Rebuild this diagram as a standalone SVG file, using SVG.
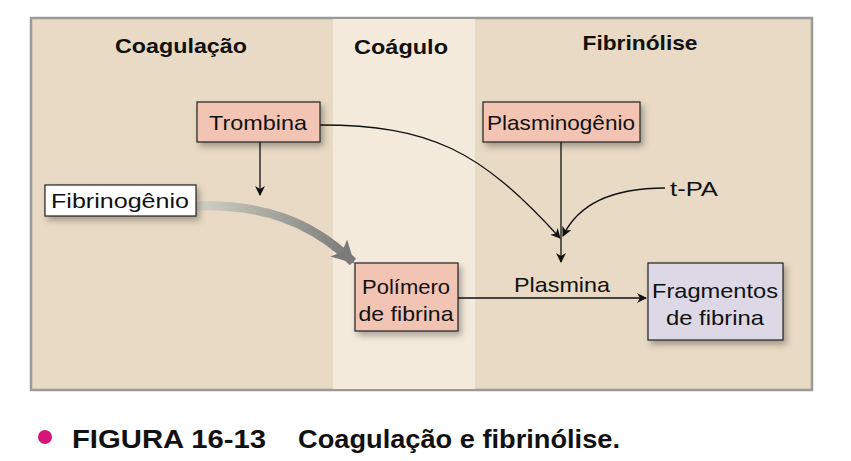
<svg xmlns="http://www.w3.org/2000/svg" width="851" height="461" viewBox="0 0 851 461">
<defs>
<marker id="ah" markerWidth="10" markerHeight="10" refX="9" refY="5" orient="auto" markerUnits="userSpaceOnUse"><path d="M0,0 L10,5 L0,10 L3,5 Z" fill="#111"/></marker>
<marker id="bh" markerWidth="30" markerHeight="30" refX="20" refY="12" orient="auto" markerUnits="userSpaceOnUse"><path d="M0,0 L22,12 L0,24 L5,12 Z" fill="#7a7a7a"/></marker>
<linearGradient id="g" x1="196" y1="0" x2="355" y2="0" gradientUnits="userSpaceOnUse"><stop offset="0" stop-color="#d2d2c4"/><stop offset="1" stop-color="#777"/></linearGradient>
<filter id="sh" x="-20%" y="-20%" width="150%" height="160%"><feDropShadow dx="3" dy="4" stdDeviation="3" flood-color="#000" flood-opacity="0.3"/></filter>
</defs>
<style>
.t{font-family:"Liberation Sans",Arial,sans-serif;font-size:21px;fill:#111;text-anchor:middle}
.h{font-family:"Liberation Sans",Arial,sans-serif;font-size:21px;font-weight:bold;fill:#111;text-anchor:middle}
.box{stroke:#222;stroke-width:1.2;filter:url(#sh)}
.c{fill:none;stroke:#111;stroke-width:1.3}
</style>
<rect width="851" height="461" fill="#fff"/>
<rect x="31" y="18" width="781" height="372" fill="#e8dac4" stroke="#9a9a9a" stroke-width="2.5"/>
<rect x="333" y="19" width="142" height="370" fill="#f4eadb"/>
<text class="h" x="181" y="53" textLength="132" lengthAdjust="spacingAndGlyphs">Coagulação</text>
<text class="h" x="401" y="54" textLength="94" lengthAdjust="spacingAndGlyphs">Coágulo</text>
<text class="h" x="640" y="50" textLength="115" lengthAdjust="spacingAndGlyphs">Fibrinólise</text>
<g id="connectors">
<path d="M196,206 C260,204 310,220 353,262" fill="none" stroke="url(#g)" stroke-width="9" marker-end="url(#bh)"/>
<line class="c" x1="260" y1="142" x2="260" y2="195" marker-end="url(#ah)"/>
<path class="c" d="M320,125 C430,125 480,150 560,238" marker-end="url(#ah)"/>
<line class="c" x1="561" y1="142" x2="561" y2="262" marker-end="url(#ah)"/>
<path class="c" d="M665,188 C620,188 580,200 563,236" marker-end="url(#ah)"/>
<line class="c" x1="458" y1="298" x2="646" y2="298" marker-end="url(#ah)"/>
</g>
<g id="trombina"><rect class="box" x="197" y="102" width="123" height="40" fill="#f2c4b4"/><text class="t" x="258" y="130" textLength="98" lengthAdjust="spacingAndGlyphs">Trombina</text></g>
<g id="plasminogenio"><rect class="box" x="483" y="102" width="157" height="40" fill="#f2c4b4"/><text class="t" x="561" y="130" textLength="148" lengthAdjust="spacingAndGlyphs">Plasminogênio</text></g>
<g id="fibrinogenio"><rect class="box" x="45" y="185" width="151" height="31" fill="#fff"/><text class="t" x="120" y="208" textLength="138" lengthAdjust="spacingAndGlyphs">Fibrinogênio</text></g>
<g id="polimero"><rect class="box" x="355" y="263" width="103" height="68" fill="#f2c4b4"/><text class="t" x="406" y="294" textLength="88" lengthAdjust="spacingAndGlyphs">Polímero</text><text class="t" x="406" y="321" textLength="95" lengthAdjust="spacingAndGlyphs">de fibrina</text></g>
<g id="fragmentos"><rect class="box" x="648" y="263" width="135" height="77" fill="#dcd8e6"/><text class="t" x="715" y="298" textLength="126" lengthAdjust="spacingAndGlyphs">Fragmentos</text><text class="t" x="715" y="325" textLength="98" lengthAdjust="spacingAndGlyphs">de fibrina</text></g>
<g id="plasmina"><text class="t" x="562" y="292" textLength="96" lengthAdjust="spacingAndGlyphs">Plasmina</text></g>
<g id="tpa"><text class="t" x="694" y="196" textLength="48" lengthAdjust="spacingAndGlyphs">t-PA</text></g>
<circle cx="45" cy="437" r="7" fill="#d6147a"/>
<text x="72" y="448" font-family="Liberation Sans,Arial,sans-serif" font-size="26" font-weight="bold" fill="#111" textLength="194" lengthAdjust="spacingAndGlyphs">FIGURA 16-13</text>
<text x="298" y="448" font-family="Liberation Sans,Arial,sans-serif" font-size="26" font-weight="bold" fill="#111" textLength="322" lengthAdjust="spacingAndGlyphs">Coagulação e fibrinólise.</text>
</svg>
